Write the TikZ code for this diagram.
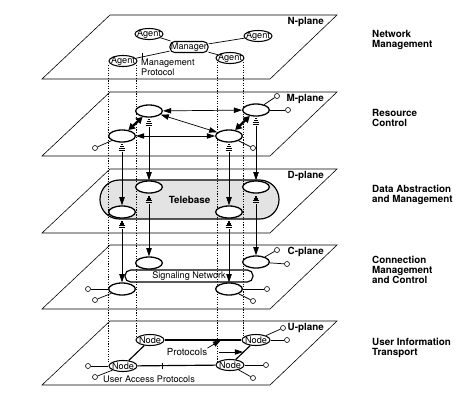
\documentclass[tikz,border=0pt]{standalone}
\usepackage{fontspec}
\setmainfont{TeX Gyre Heros}
\usetikzlibrary{shapes.geometric, arrows.meta, positioning, calc}
\newcommand\txtfont{\fontsize{7.8}{8.5}\selectfont}
\newcommand\lblfont{\fontsize{8.4}{8.6}\selectfont\bfseries}

\begin{document}
\begin{tikzpicture}[x=0.03cm, y=-0.03cm]

\tikzset{plane/.style = {draw, line width=0.5pt}}
\tikzset{guide/.style = {draw, line width=0.55pt, dash pattern=on 1pt off 1.2pt}}
\tikzset{cell/.style = {shape=ellipse, draw, fill=white, line width=1.1pt, minimum width=0.8cm, minimum height=0.36cm, inner sep=0pt}}
\tikzset{agent/.style = {shape=ellipse, draw, fill=white, line width=0.9pt, minimum width=0.84cm, minimum height=0.33cm, inner sep=-4pt, font=\txtfont}}
\tikzset{port/.style = {shape=circle, draw, fill=white, line width=0.5pt, minimum size=0.15cm, inner sep=0pt}}
\tikzset{gnd/.style = {minimum width=6pt, minimum height=6.5pt, inner sep=0pt, path picture={
  \foreach \i in {0,...,3}
    \draw[line width=1pt] ([xshift=-0.9pt-0.65pt*\i, yshift=-0.7pt-1.6pt*\i]path picture bounding box.north) -- ++(1.8pt+1.3pt*\i,0pt);}}}
\tikzset{pill/.style = {draw, line width=1pt, inner sep=0pt}}
\tikzset{link/.style = {line width=0.6pt}}
\tikzset{wire/.style = {line width=1pt}}
\tikzset{>={Triangle[length=7pt,width=4.6pt]}}
\tikzset{fat/.style = {line width=2pt, >={Triangle[length=5.5pt,width=6pt]}}}
\tikzset{lbl/.style = {font=\lblfont, inner sep=0pt}}
\tikzset{side/.style = {font=\lblfont, inner sep=0pt, anchor=west, align=left}}

\useasboundingbox (0,0) rectangle (474,413);

%planes
\foreach \y/\n in {15/N,92/M,169/D,245/C,321/U} {
  \draw[plane] (110,\y) -- (337,\y) -- (270,\y+64) -- (42,\y+64) -- cycle;
  \node[lbl, anchor=east] (\n plane) at (324,\y+7) {\n-plane};
}

%layer names
\node[side] (nmText) at (372,40) {Network\\Management};
\node[side] (rcText) at (372,118) {Resource\\Control};
\node[side] (daText) at (372,195) {Data Abstraction\\and Management};
\node[side] (cmText) at (372,270) {Connection\\Management\\and Control};
\node[side] (uiText) at (372,348) {User Information\\Transport};

%telebase and signaling network
\node[pill, fill=gray!22, minimum width=5.37cm, minimum height=1.17cm, rounded corners=0.58cm, font=\lblfont] (tele) at (189.5,199.5) {Telebase};
\node[pill, fill=white, minimum width=3.84cm, minimum height=0.36cm, rounded corners=0.17cm, font=\txtfont] (sig) at (189,276) {Signaling Network};

%dotted guides
\foreach \x/\ya/\yb in {108/65/362,136/65/337,217/62/362,243/62/337}
  \draw[guide] (\x,\ya) -- (\x,\yb);

%N-plane
\node[agent, rounded corners=4pt, shape=rectangle, minimum width=1.14cm] (mgr) at (189,47) {Manager};
\node[agent] (agUL) at (149,34) {Agent};
\node[agent] (agUR) at (258,36) {Agent};
\node[agent] (agLL) at (123,61) {Agent};
\node[agent] (agLR) at (230,58) {Agent};
\draw[link] (mgr) -- (agUL);
\draw[link] (mgr) -- (agUR);
\draw[link] (mgr) -- (agLL);
\draw[link] (mgr) -- (agLR);
\node[font=\txtfont, inner sep=0pt, anchor=north west, align=left] (mprot) at (141,59) {Management\\Protocol};
\draw[link] ([xshift=1pt]mprot.north west) -- ++(0,5pt);

%M-plane
\node[cell] (mBL) at (149,111) {};
\node[cell] (mBR) at (256,110) {};
\node[cell] (mFL) at (122,136) {};
\node[cell] (mFR) at (229,136) {};
\draw[link, <->] (mBL) -- (mBR);
\draw[link, <->] (mFL) -- (mFR);
\draw[link, <->] (mBL) -- (mFR);
\draw[fat, <->] (mFL) -- (mBL);
\draw[fat, <->] (mFR) -- (mBR);
\node[port] (mFLp) at (95,148) {};
\node[port] (mFRp) at (253,148) {};
\node[port] (mBRp1) at (277,96) {};
\node[port] (mBRp2) at (288,110) {};
\draw[link] (mFL) -- (mFLp);
\draw[link] (mFR) -- (mFRp);
\draw[link] (mBR) -- (mBRp1);
\draw[link] (mBR) -- (mBRp2);
\node[gnd, below=1pt of mBL] (mBLg) {};
\node[gnd, below=1pt of mBR] (mBRg) {};
\node[gnd, below=1pt of mFL] (mFLg) {};
\node[gnd, below=1pt of mFR] (mFRg) {};

%D-plane
\node[cell] (dBL) at (149,187) {};
\node[cell] (dBR) at (256,187) {};
\node[cell] (dFL) at (122,212) {};
\node[cell] (dFR) at (229,212) {};
\node[gnd, below=2pt of dBL] (dBLg) {};
\node[gnd, below=2pt of dBR] (dBRg) {};
\node[gnd, below=2pt of dFL] (dFLg) {};
\node[gnd, below=2pt of dFR] (dFRg) {};
\draw[link, ->] (mBLg) -- (dBL);
\draw[link, ->] (mBRg) -- (dBR);
\draw[link, ->] (mFLg) -- (dFL);
\draw[link, ->] (mFRg) -- (dFR);

%C-plane
\node[cell] (cBL) at (149,263) {};
\node[cell] (cBR) at (256,262) {};
\node[cell] (cFL) at (122,289) {};
\node[cell] (cFR) at (229,289) {};
\draw[link, ->] (dBLg) -- (cBL);
\draw[link, ->] (dBRg) -- (cBR);
\draw[link, ->] (dFLg) -- (cFL);
\draw[link, ->] (dFRg) -- (cFR);
\node[port] (cBRp1) at (277,250) {};
\node[port] (cBRp2) at (287,264) {};
\node[port] (cFLp1) at (88,289) {};
\node[port] (cFLp2) at (95,300) {};
\node[port] (cFRp1) at (267,289) {};
\node[port] (cFRp2) at (253,301) {};
\draw[link] (cBR) -- (cBRp1);
\draw[link] (cBR) -- (cBRp2);
\draw[link] (cFL) -- (cFLp1);
\draw[link] (cFL) -- (cFLp2);
\draw[link] (cFR) -- (cFRp1);
\draw[link] (cFR) -- (cFRp2);

%U-plane
\node[agent] (uBL) at (150,340) {Node};
\node[agent] (uBR) at (256,340) {Node};
\node[agent] (uFL) at (123,366) {Node};
\node[agent] (uFR) at (230,365) {Node};
\draw[wire] (uBL) -- (uBR);
\draw[wire] (uFL) -- (uFR);
\draw[wire] (uFL) -- (uBL);
\draw[wire] (uFR) -- (uBR);
\node[port] (uBRp1) at (283,328) {};
\node[port] (uBRp2) at (287,340) {};
\node[port] (uFLp1) at (88,366) {};
\node[port] (uFLp2) at (95,377) {};
\node[port] (uFRp1) at (266,365) {};
\node[port] (uFRp2) at (253,378) {};
\draw[link] (uBR) -- (uBRp1);
\draw[link] (uBR) -- (uBRp2);
\draw[link] (uFL) -- (uFLp1);
\draw[link] (uFL) -- (uFLp2);
\draw[link] (uFR) -- (uFRp1);
\draw[link] (uFR) -- (uFRp2);
\node[font=\fontsize{8.3}{9}\selectfont, inner sep=0pt] (proto) at (187,352) {Protocols};
\coordinate (p1) at ($(uBL)!0.67!(uBR)$);
\coordinate (p2) at ($(uFR)!0.5!(uBR)$);
\draw[link, ->] (proto.north east) -- (p1);
\draw[link, ->] ([xshift=10pt]proto.east) -- (proto.east -| p2);
\node[font=\txtfont, inner sep=0pt, anchor=west] (uap) at (103,379) {User Access Protocols};
\coordinate (tk) at ($(uFL)!0.37!(uFR)$);
\draw[link] ([yshift=2.5pt]tk) -- ([yshift=-2.5pt]tk);

\end{tikzpicture}
\end{document}
